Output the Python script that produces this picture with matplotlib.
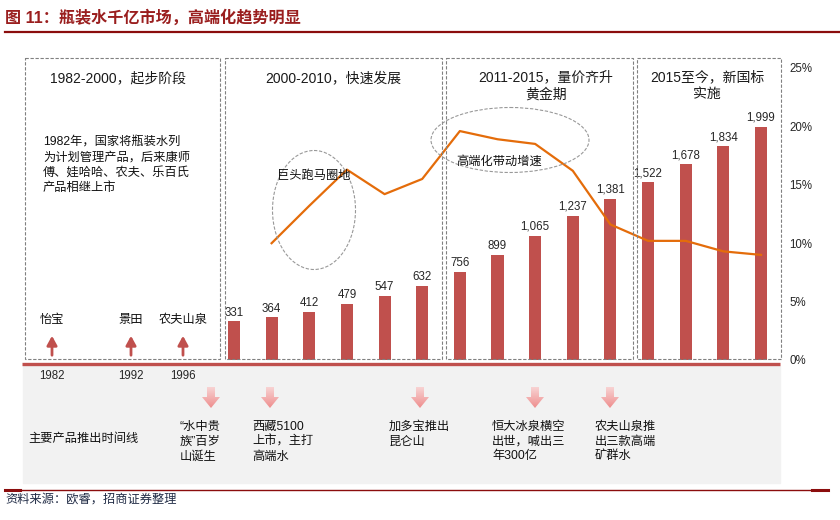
import numpy as np
import matplotlib
matplotlib.use('Agg')
import matplotlib.pyplot as plt
import matplotlib.transforms as mtransforms
from matplotlib.patches import Rectangle, Ellipse, Polygon
from matplotlib.colors import LinearSegmentedColormap

plt.rcParams['font.family'] = ['Liberation Sans', 'Noto Sans CJK SC', 'DejaVu Sans']

# 数据
years = [2005, 2006, 2007, 2008, 2009, 2010, 2011, 2012, 2013, 2014, 2015, 2016, 2017, 2018, 2019]
sales = [331, 364, 412, 479, 547, 632, 756, 899, 1065, 1237, 1381, 1522, 1678, 1834, 1999]
growth_years = [2006, 2007, 2008, 2009, 2010, 2011, 2012, 2013, 2014, 2015, 2016, 2017, 2018, 2019]
growth = [10.0, 13.2, 16.3, 14.2, 15.5, 19.6, 18.9, 18.5, 16.2, 11.6, 10.2, 10.2, 9.3, 9.0]
pct_ticks = [0, 5, 10, 15, 20, 25]

early_years = ['1982', '1992', '1996']
early_brands = ['怡宝', '景田', '农夫山泉']

launch_text = ['“水中贵\n族”百岁\n山诞生', '西藏5100\n上市，主打\n高端水', '加多宝推出\n昆仑山',
               '恒大冰泉横空\n出世，喊出三\n年300亿', '农夫山泉推\n出三款高端\n矿群水']

bar_color = '#C0504D'
line_color = '#E46C0A'
dark_red = '#8B0D0D'
txt_fs = 8.8

W, H = 840, 520
fig = plt.figure(figsize=(W / 100, H / 100), dpi=100)


def rect(x0, y0, x1, y1):
    # 像素坐标 -> figure 坐标
    return [x0 / W, 1 - y1 / H, (x1 - x0) / W, (y1 - y0) / H]


# 主图：柱状 + 增速
ax = fig.add_axes(rect(22, 68, 781, 360))
ax.set_zorder(1)
ax.patch.set_visible(False)
bars = ax.bar(years, sales, width=0.32, color=bar_color, zorder=2)
ax.bar_label(bars, labels=[f'{v:,}' for v in sales], padding=2, fontsize=8.3, color='#262626')
ax.set_xlim(1999.37, 2019.53)
ax.set_ylim(0, 2500)
ax.set_yticks([])
ax.set_xticks(years)
ax.set_xticklabels([str(y) for y in years], fontsize=8.3, color='#262626')
ax.tick_params(axis='x', length=0, pad=7)
for s in ax.spines.values():
    s.set_visible(False)

ax2 = ax.twinx()
ax2.set_zorder(2)
ax2.plot(growth_years, growth, color=line_color, lw=1.6)
ax2.set_ylim(0, 25)
ax2.set_yticks(pct_ticks)
ax2.set_yticklabels([f'{t}%' for t in pct_ticks], fontsize=8.3, color='#262626')
ax2.tick_params(axis='y', length=0, pad=6)
for s in ax2.spines.values():
    s.set_visible(False)

# 装饰层（像素坐标）
ov = fig.add_axes([0, 0, 1, 1])
ov.set_zorder(3)
ov.patch.set_visible(False)
ov.axis('off')

# 标题
ov.text(5, 18, '图 11：瓶装水千亿市场，高端化趋势明显', fontsize=11.6, fontweight='bold',
        color='#9A1E1E', va='center', ha='left')
ov.plot([5, 840], [32, 32], color=dark_red, lw=1.6)

# 阶段框
panels = [(25, 220), (225, 442), (446, 633), (637, 781)]
for x0, x1 in panels:
    ov.add_patch(Rectangle((x0, 58), x1 - x0, 301, fill=False, ec='#808080', lw=0.8, ls=(0, (3, 1.5))))

ov.text(118, 78, '1982-2000，起步阶段', fontsize=10, ha='center', va='center', color='#1a1a1a')
ov.text(333, 78, '2000-2010，快速发展', fontsize=10, ha='center', va='center', color='#1a1a1a')
ov.text(546, 86, '2011-2015，量价齐升\n黄金期', fontsize=10, ha='center', va='center',
        color='#1a1a1a', linespacing=1.25)
ov.text(707, 86, '2015至今，新国标\n实施', fontsize=10, ha='center', va='center',
        color='#1a1a1a', linespacing=1.25)

ov.text(43, 165, '1982年，国家将瓶装水列\n为计划管理产品，后来康师\n傅、娃哈哈、农夫、乐百氏\n产品相继上市',
        fontsize=txt_fs, ha='left', va='center', color='#111111', linespacing=1.35)

# 早期品牌
early_x = [52, 131, 183]
for x, yr, br in zip(early_x, early_years, early_brands):
    ov.text(x, 320, br, fontsize=txt_fs, ha='center', va='center', color='#111111')
    ov.annotate('', xy=(x, 333), xytext=(x, 358),
                arrowprops=dict(arrowstyle='-|>,head_width=0.3,head_length=0.55', color=bar_color, lw=2.0))
    ov.text(x, 376, yr, fontsize=8.3, ha='center', va='center', color='#262626')

# 椭圆标注
ov.add_patch(Ellipse((314, 210), 83, 119, fill=False, ec='#999999', lw=0.8, ls=(0, (3, 1.5))))
ov.text(314, 176, '巨头跑马圈地', fontsize=txt_fs, ha='center', va='center', color='#111111')
ov.add_patch(Ellipse((510, 140), 158, 65, fill=False, ec='#999999', lw=0.8, ls=(0, (3, 1.5))))
ov.text(499, 162, '高端化带动增速', fontsize=txt_fs, ha='center', va='center', color='#111111')

# 底部时间线
ov.add_patch(Rectangle((23, 366), 757, 117, color='#F2F2F2', zorder=0))
ov.plot([22, 780], [364, 364], color=bar_color, lw=2.4, solid_capstyle='butt')
ov.text(28, 439, '主要产品推出时间线', fontsize=txt_fs, ha='left', va='center', color='#111111')

arrow_x = [211, 270, 420, 535, 610]
text_x = [180, 252, 389, 492, 595]
grad = np.linspace(0, 1, 50).reshape(-1, 1)
pink = LinearSegmentedColormap.from_list('pink', ['#F8D3D3', '#EE8E8E'])
for ax_x, tx, txt in zip(arrow_x, text_x, launch_text):
    pts = [(ax_x - 4, 387), (ax_x + 4, 387), (ax_x + 4, 397), (ax_x + 9, 397),
           (ax_x, 408), (ax_x - 9, 397), (ax_x - 4, 397)]
    poly = Polygon(pts, closed=True, fc='none', ec='none')
    ov.add_patch(poly)
    im = ov.imshow(grad, cmap=pink, extent=(ax_x - 9, ax_x + 9, 408, 387), aspect='auto', zorder=2)
    im.set_clip_path(poly)
    ov.text(tx, 421, txt, fontsize=txt_fs, ha='left', va='top', color='#111111', linespacing=1.3)

# 来源
ov.plot([5, 828], [490, 490], color=dark_red, lw=1.0)
ov.plot([5, 20], [490, 490], color=dark_red, lw=2.2)
ov.plot([812, 828], [490, 490], color=dark_red, lw=2.2)
ov.text(5, 500, '资料来源：欧睿，招商证券整理', fontsize=txt_fs, ha='left', va='center', color='#1F2A44')

ov.set_xlim(0, W)
ov.set_ylim(H, 0)

fig.savefig('out.png', dpi=100)
